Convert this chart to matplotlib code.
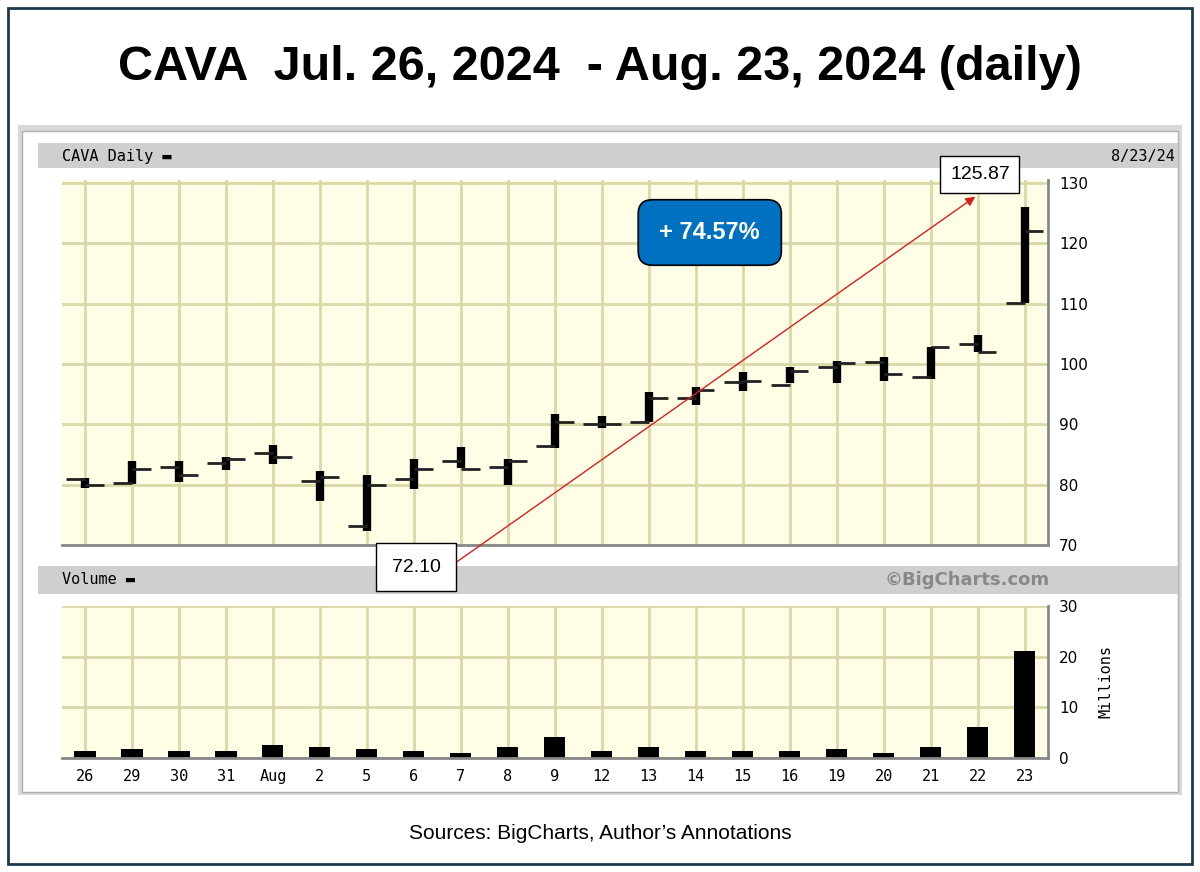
import matplotlib.pyplot as plt
from matplotlib.patches import Rectangle
import numpy as np

days = ['26', '29', '30', '31', 'Aug', '2', '5', '6', '7', '8', '9', '12', '13',
        '14', '15', '16', '19', '20', '21', '22', '23']
opens = [81.0, 80.3, 82.9, 83.6, 85.3, 80.6, 73.2, 81.0, 83.9, 82.9, 86.4, 90.1,
         90.4, 94.4, 97.0, 96.6, 99.5, 100.3, 97.9, 103.3, 110.1]
highs = [81.1, 83.9, 83.9, 84.6, 86.6, 82.3, 81.6, 84.3, 86.3, 84.3, 91.7, 91.4,
         95.4, 96.2, 98.7, 99.5, 100.5, 101.2, 102.8, 104.8, 126.0]
lows = [79.5, 80.1, 80.4, 82.4, 83.4, 77.3, 72.3, 79.3, 82.8, 79.9, 86.1, 89.4,
        90.4, 93.2, 95.5, 96.9, 96.9, 97.2, 97.5, 102.0, 110.1]
closes = [80.0, 82.6, 81.6, 84.3, 84.6, 81.3, 80.0, 82.6, 82.6, 83.9, 90.4, 90.1,
          94.4, 95.7, 97.2, 98.9, 100.2, 98.4, 102.8, 102.0, 122.0]
volume = [1.4, 1.8, 1.4, 1.4, 2.6, 2.2, 1.8, 1.4, 1.0, 2.2, 4.1, 1.4, 2.2, 1.4,
          1.4, 1.4, 1.8, 1.0, 2.2, 6.1, 21.1]

W, H = 1200, 872
fig = plt.figure(figsize=(W / 100, H / 100), dpi=100)

def fx(px):
    return px / W

def fy(py):
    return 1 - py / H

def add_rect(x0, top, x1, bot, **kw):
    r = Rectangle((fx(x0), fy(bot)), fx(x1 - x0), (bot - top) / H,
                  transform=fig.transFigure, zorder=-10, **kw)
    fig.patches.append(r)

# outer frame and grey panel
add_rect(8, 8, 1192, 864, fill=False, edgecolor='#1f3a4a', linewidth=2)
add_rect(18, 125, 1182, 795, facecolor='#d9d9d9', edgecolor='none')
add_rect(22, 131, 1178, 792, facecolor='white', edgecolor='#b0b0b0', linewidth=1)
# header strips
add_rect(38, 143, 1178, 168, facecolor='#cfcfcf', edgecolor='none')
add_rect(38, 566, 1178, 594, facecolor='#cfcfcf', edgecolor='none')

fig.text(0.5, fy(68), 'CAVA  Jul. 26, 2024  - Aug. 23, 2024 (daily)', ha='center', va='center',
         fontsize=35, fontweight='bold', family='Liberation Sans')
fig.text(0.5, fy(833), 'Sources: BigCharts, Author\u2019s Annotations', ha='center', va='center',
         fontsize=15, family='Liberation Sans')
fig.text(fx(62), fy(156), 'CAVA Daily \u25ac', ha='left', va='center', fontsize=11, family='DejaVu Sans Mono')
fig.text(fx(1175), fy(156), '8/23/24', ha='right', va='center', fontsize=11, family='DejaVu Sans Mono')
fig.text(fx(62), fy(580), 'Volume \u25ac', ha='left', va='center', fontsize=11, family='DejaVu Sans Mono')
fig.text(fx(1050), fy(580), '\u00a9BigCharts.com', ha='right', va='center', fontsize=13,
         color='#888888', fontweight='bold', family='DejaVu Sans')

x = np.arange(len(days))
bg = '#fffde6'
gridc = '#d8d8a8'

def style(a):
    a.set_facecolor(bg)
    a.set_xlim(-0.49, 20.5)
    a.set_xticks(x)
    a.yaxis.tick_right()
    a.tick_params(axis='y', length=0, labelsize=11, pad=8)
    a.grid(True, color=gridc, linewidth=2)
    a.set_axisbelow(True)
    for s in ['top', 'left']:
        a.spines[s].set_visible(False)
    for s in ['bottom', 'right']:
        a.spines[s].set_color('#888888')
        a.spines[s].set_linewidth(2)

ax = fig.add_axes([fx(62), fy(545), fx(1048 - 62), (545 - 180) / H])
style(ax)
ax.set_ylim(70, 130.5)
ax.set_yticks(range(70, 131, 10))
ax.tick_params(axis='x', length=0, labelbottom=False)
for i in x:
    ax.vlines(i, lows[i], highs[i], color='black', linewidth=6)
    ax.hlines(opens[i], i - 0.4, i, color='#222222', linewidth=2)
    ax.hlines(closes[i], i, i + 0.4, color='#222222', linewidth=2)

# annotations
ax.annotate('', xy=(19.0, 128.0), xytext=(7.75, 66.3), annotation_clip=False,
            arrowprops=dict(arrowstyle='-|>', color='#d62020', lw=1, mutation_scale=14))
ax.text(7.05, 66.3, '72.10', ha='center', va='center', fontsize=14, family='Liberation Sans',
        clip_on=False, zorder=5,
        bbox=dict(boxstyle='square,pad=0.8', facecolor='white', edgecolor='black'))
ax.text(19.05, 131.4, '125.87', ha='center', va='center', fontsize=14, family='Liberation Sans',
        clip_on=False, zorder=5,
        bbox=dict(boxstyle='square,pad=0.5', facecolor='white', edgecolor='black'))
ax.text(13.3, 121.8, '+ 74.57%', ha='center', va='center', fontsize=17, fontweight='bold',
        color='white', family='Liberation Sans', zorder=5,
        bbox=dict(boxstyle='round,pad=0.9,rounding_size=0.6', facecolor='#0070c0',
                  edgecolor='black', linewidth=1.2))

av = fig.add_axes([fx(62), fy(758), fx(1048 - 62), (758 - 606) / H])
style(av)
av.set_ylim(0, 30)
av.set_yticks([0, 10, 20, 30])
av.set_xticklabels(days, family='DejaVu Sans Mono', fontsize=11)
av.tick_params(axis='x', length=0, pad=8)
av.bar(x, volume, width=0.45, color='black')
av.yaxis.set_label_position('right')
av.set_ylabel('Millions', family='DejaVu Sans Mono', fontsize=11, rotation=90, labelpad=14)

fig.savefig('out.png', dpi=100)
